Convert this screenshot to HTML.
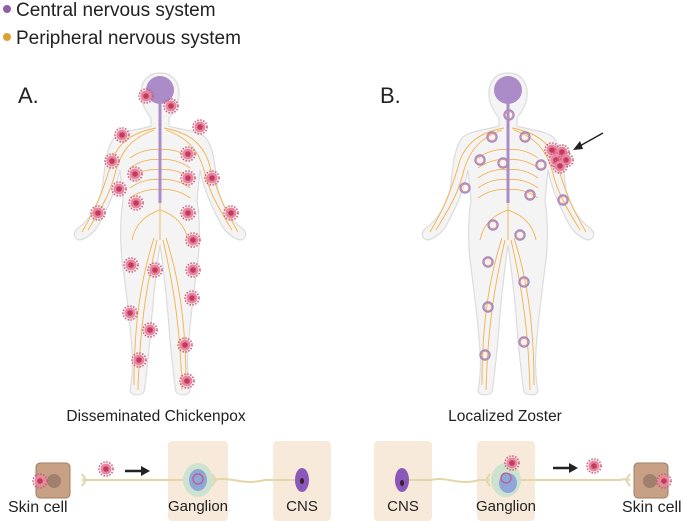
<!DOCTYPE html>
<html><head><meta charset="utf-8"><style>
body{margin:0;background:#fff;}
svg{display:block;font-family:"Liberation Sans",sans-serif;}
</style></head><body>
<svg width="685" height="521" viewBox="0 0 685 521">
<defs>
<g id="body">
  <path d="M0,73 C-14,73 -20,84 -19,96 C-18,106 -12,114 -9,118 L-9,126 C-20,130 -38,130 -46,138 C-55,150 -55,170 -58,190 C-62,205 -70,220 -82,228 C-88,233 -86,240 -80,240 C-72,238 -66,232 -62,226 C-52,208 -44,190 -40,170 L-37,200 C-40,220 -40,240 -38,260 C-34,290 -30,320 -28,350 C-27,365 -28,380 -30,390 C-30,396 -20,396 -16,392 C-14,380 -12,360 -10,340 C-8,310 -5,280 0,245 C5,280 8,310 10,340 C12,360 14,380 16,392 C20,396 30,396 30,390 C28,380 27,365 28,350 C30,320 34,290 38,260 C40,240 40,220 37,200 L40,170 C44,190 52,208 62,226 C66,232 72,238 80,240 C86,240 88,233 82,228 C70,220 62,205 58,190 C55,170 55,150 46,138 C38,130 20,130 9,126 L9,118 C12,114 18,106 19,96 C20,84 14,73 0,73 Z" fill="#f4f4f4" stroke="#dcdcdc" stroke-width="1.2"/>
  <g fill="none" stroke="#f5b04a" stroke-width="0.9">
   <path d="M0,110 L0,240"/>
   <path d="M-4,128 C-25,132 -40,140 -48,160 C-55,185 -62,205 -78,232"/>
   <path d="M4,128 C25,132 40,140 48,160 C55,185 62,205 78,232"/>
   <path d="M-6,130 C-28,138 -38,150 -44,170 C-50,195 -60,210 -72,230"/>
   <path d="M6,130 C28,138 38,150 44,170 C50,195 60,210 72,230"/>
   <path d="M-3,240 C-12,280 -20,320 -22,390"/>
   <path d="M3,240 C12,280 20,320 22,390"/>
   <path d="M-6,238 C-18,275 -26,320 -26,385"/>
   <path d="M6,238 C18,275 26,320 26,385"/>
   <path d="M0,150 C-10,148 -22,152 -30,158 M0,160 C-10,158 -22,162 -30,168 M0,170 C-10,168 -22,172 -30,178 M0,180 C-10,178 -22,182 -30,188 M0,190 C-10,188 -22,192 -30,198"/>
   <path d="M0,150 C10,148 22,152 30,158 M0,160 C10,158 22,162 30,168 M0,170 C10,168 22,172 30,178 M0,180 C10,178 22,182 30,188 M0,190 C10,188 22,192 30,198"/>
   <path d="M0,210 C-15,215 -25,225 -28,240 M0,210 C15,215 25,225 28,240"/>
  </g>
  <ellipse cx="0" cy="90" rx="14" ry="14" fill="#ab8bc8"/>
  <rect x="-1.5" y="103" width="3" height="100" fill="#ab8bc8"/>
</g>
<g id="vir">
  <circle r="7" fill="none" stroke="#d2577a" stroke-width="1.6" stroke-dasharray="1.5 1.5"/>
  <circle r="5.5" fill="#e8859f"/>
  <circle r="2.8" fill="#c33a5e"/>
</g>
<g id="ring">
  <circle r="5" fill="none" stroke="#9a8cc8" stroke-width="1.4"/>
  <circle r="3.8" fill="none" stroke="#e28a8a" stroke-width="1"/>
</g>
</defs>

<circle cx="7" cy="9" r="4" fill="#8e5ea8"/>
<text x="16" y="16" font-size="19" fill="#222">Central nervous system</text>
<circle cx="7" cy="37" r="4" fill="#e0a030"/>
<text x="16" y="44" font-size="19" fill="#222">Peripheral nervous system</text>

<text x="18" y="103" font-size="22" fill="#222">A.</text>
<text x="380" y="103" font-size="22" fill="#222">B.</text>

<use href="#body" transform="translate(160,0)"/>
<use href="#body" transform="translate(508,0)"/>

<g>
<use href="#vir" x="146" y="96"/><use href="#vir" x="171" y="106"/><use href="#vir" x="122" y="135"/><use href="#vir" x="200" y="127"/>
<use href="#vir" x="188" y="154"/><use href="#vir" x="112" y="161"/><use href="#vir" x="135" y="174"/><use href="#vir" x="188" y="178"/>
<use href="#vir" x="119" y="189"/><use href="#vir" x="212" y="178"/><use href="#vir" x="136" y="203"/><use href="#vir" x="188" y="213"/>
<use href="#vir" x="98" y="213"/><use href="#vir" x="231" y="213"/><use href="#vir" x="193" y="240"/><use href="#vir" x="131" y="265"/>
<use href="#vir" x="155" y="270"/><use href="#vir" x="193" y="270"/><use href="#vir" x="192" y="298"/><use href="#vir" x="130" y="313"/>
<use href="#vir" x="150" y="330"/><use href="#vir" x="185" y="345"/><use href="#vir" x="139" y="360"/><use href="#vir" x="187" y="381"/>
</g>
<g>
<use href="#ring" x="509" y="115"/><use href="#ring" x="492" y="137"/><use href="#ring" x="525" y="137"/><use href="#ring" x="480" y="160"/>
<use href="#ring" x="503" y="163"/><use href="#ring" x="541" y="165"/><use href="#ring" x="465" y="188"/><use href="#ring" x="530" y="195"/>
<use href="#ring" x="563" y="200"/><use href="#ring" x="493" y="225"/><use href="#ring" x="520" y="235"/><use href="#ring" x="488" y="262"/>
<use href="#ring" x="524" y="282"/><use href="#ring" x="488" y="307"/><use href="#ring" x="524" y="342"/><use href="#ring" x="485" y="355"/>
<use href="#vir" x="552" y="150"/><use href="#vir" x="562" y="152"/><use href="#vir" x="556" y="160"/><use href="#vir" x="566" y="160"/><use href="#vir" x="560" y="166"/>
</g>
<line x1="603" y1="133" x2="578" y2="147" stroke="#222" stroke-width="1.5"/>
<polygon points="573,150 580,141 583,149" fill="#222"/>

<text x="156" y="421" font-size="15.5" fill="#222" text-anchor="middle">Disseminated Chickenpox</text>
<text x="505" y="421" font-size="15.5" fill="#222" text-anchor="middle">Localized Zoster</text>

<!-- bottom panel -->
<rect x="168" y="441" width="60" height="80" rx="4" fill="#f7eadb"/>
<rect x="273" y="441" width="58" height="80" rx="4" fill="#f7eadb"/>
<rect x="374" y="441" width="58" height="80" rx="4" fill="#f7eadb"/>
<rect x="477" y="441" width="58" height="80" rx="4" fill="#f7eadb"/>
<g fill="none" stroke="#e3d6a8" stroke-width="2">
<path d="M82,480 L190,480"/><path d="M82,474 L86,480 L82,486"/>
<path d="M212,480 C235,476 240,486 265,480 L305,480"/><path d="M212,474 L216,480 L212,486"/>
<path d="M405,480 L430,480 C450,476 455,486 480,480 L490,480"/><path d="M490,474 L486,480 L490,486"/>
<path d="M520,480 L620,480 C626,478 628,480 630,480"/><path d="M630,474 L626,480 L630,486"/>
</g>
<rect x="36" y="463" width="34" height="35" rx="4" fill="#c8a184" stroke="#9e7d66"/>
<circle cx="54" cy="481" r="7" fill="#a0806c"/>
<use href="#vir" x="40" y="481"/>
<rect x="634" y="463" width="34" height="35" rx="4" fill="#c8a184" stroke="#9e7d66"/>
<circle cx="650" cy="481" r="7" fill="#a0806c"/>
<use href="#vir" x="664" y="481"/>
<use href="#vir" x="106" y="469"/>
<line x1="125" y1="471" x2="142" y2="471" stroke="#222" stroke-width="2.5"/><polygon points="141,466 150,471 141,476" fill="#222"/>
<line x1="553" y1="468" x2="570" y2="468" stroke="#222" stroke-width="2.5"/><polygon points="569,463 578,468 569,473" fill="#222"/>
<use href="#vir" x="594" y="466"/>
<ellipse cx="198" cy="480" rx="15" ry="17" fill="#cde3cf"/>
<ellipse cx="198" cy="480" rx="9" ry="11" fill="#8ea6d8"/>
<circle cx="198" cy="479" r="5" fill="none" stroke="#c05a8a" stroke-width="1.2"/>
<ellipse cx="506" cy="480" rx="15" ry="17" fill="#cde3cf"/>
<ellipse cx="508" cy="483" rx="9" ry="10" fill="#8ea6d8"/>
<circle cx="506" cy="478" r="5" fill="none" stroke="#c05a8a" stroke-width="1.2"/>
<use href="#vir" x="512" y="463"/>
<ellipse cx="302" cy="480" rx="7" ry="12" fill="#8a58b8"/><ellipse cx="302" cy="481" rx="2" ry="3" fill="#3a1e28"/>
<ellipse cx="402" cy="480" rx="7" ry="12" fill="#8a58b8"/><ellipse cx="402" cy="483" rx="2" ry="3" fill="#3a1e28"/>

<text x="8" y="512" font-size="16" fill="#222">Skin cell</text>
<text x="198" y="511" font-size="15" fill="#222" text-anchor="middle">Ganglion</text>
<text x="302" y="511" font-size="15" fill="#222" text-anchor="middle">CNS</text>
<text x="403" y="511" font-size="15" fill="#222" text-anchor="middle">CNS</text>
<text x="506" y="511" font-size="15" fill="#222" text-anchor="middle">Ganglion</text>
<text x="622" y="512" font-size="16" fill="#222">Skin cell</text>
</svg>
</body></html>
